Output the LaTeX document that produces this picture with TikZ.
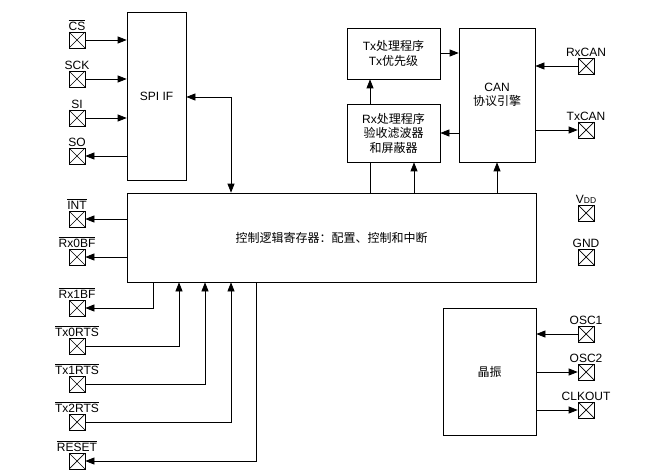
\documentclass[tikz,border=0pt]{standalone}
\usepackage{fontspec}
\setmainfont{Liberation Sans}
\newfontfamily\cjk{Noto Sans CJK SC}
\usetikzlibrary{arrows.meta}
\newcommand{\ol}[1]{$\overline{\mbox{#1}}$}
\begin{document}
\begin{tikzpicture}[x=1pt,y=-1pt,
  every node/.style={font=\fontsize{12}{14.5}\selectfont},
  pin/.style={draw,minimum size=16pt,inner sep=0pt,path picture={
    \draw (path picture bounding box.south west)--(path picture bounding box.north east)
          (path picture bounding box.north west)--(path picture bounding box.south east);}},
  box/.style={draw,inner sep=0pt},
  line width=0.7pt,
  >={Triangle[length=9pt,width=7pt]}]
\useasboundingbox (0,0) rectangle (655,473);
% boxes
\node[box,minimum width=59pt,minimum height=168pt] (spi) at (156.5,96) {SPI IF};
\node[box,minimum width=409pt,minimum height=89pt] (main) at (331.5,237.5) {\cjk 控制逻辑寄存器：配置、控制和中断};
\node[box,minimum width=93pt,minimum height=51pt,align=center] (tx) at (393.5,53.5) {Tx{\cjk 处理程序}\\Tx{\cjk 优先级}};
\node[box,minimum width=93pt,minimum height=58pt,align=center] (rx) at (393.5,133) {Rx{\cjk 处理程序}\\{\cjk 验收滤波器}\\{\cjk 和屏蔽器}};
\node[box,minimum width=76pt,minimum height=134pt,align=center] (can) at (497,95) {CAN\\{\cjk 协议引擎}};
\node[box,minimum width=93pt,minimum height=127pt] (osc) at (489.5,371.5) {\cjk 晶振};
% left pins
\node[pin,label={[inner sep=1pt]above:\ol{CS}}] (cs) at (77,40) {};
\node[pin,label={[inner sep=1pt]above:SCK}] (sck) at (77,79) {};
\node[pin,label={[inner sep=1pt]above:SI}] (si) at (77,118) {};
\node[pin,label={[inner sep=1pt]above:SO}] (so) at (77,156) {};
\node[pin,label={[inner sep=1pt]above:\ol{INT}}] (int) at (77,219) {};
\node[pin,label={[inner sep=1pt]above:\ol{Rx0BF}}] (rx0) at (77,257) {};
\node[pin,label={[inner sep=1pt]above:\ol{Rx1BF}}] (rx1) at (77,308) {};
\node[pin,label={[inner sep=1pt]above:\ol{Tx0RTS}}] (t0) at (77,346) {};
\node[pin,label={[inner sep=1pt]above:\ol{Tx1RTS}}] (t1) at (77,384) {};
\node[pin,label={[inner sep=1pt]above:\ol{Tx2RTS}}] (t2) at (77,422) {};
\node[pin,label={[inner sep=1pt]above:\ol{RESET}}] (rst) at (77,461) {};
% right pins
\node[pin,label={[inner sep=1pt]above:RxCAN}] (rxcan) at (586,66) {};
\node[pin,label={[inner sep=1pt]above:TxCAN}] (txcan) at (586,130) {};
\node[pin,label={[inner sep=1pt]above:V{\fontsize{8.5}{9}\selectfont DD}}] (vdd) at (586,213) {};
\node[pin,label={[inner sep=1pt]above:GND}] (gnd) at (586,257) {};
\node[pin,label={[inner sep=1pt]above:OSC1}] (o1) at (586,334) {};
\node[pin,label={[inner sep=1pt]above:OSC2}] (o2) at (586,372) {};
\node[pin,label={[inner sep=1pt]above:CLKOUT}] (ck) at (586,410) {};
% SPI connections
\draw[->] (cs) -- (cs -| spi.west);
\draw[->] (sck) -- (sck -| spi.west);
\draw[->] (si) -- (si -| spi.west);
\draw[->] (so -| spi.west) -- (so);
\draw[<->] (spi.east |- 0,97) -| (231,0 |- main.north);
% main left
\draw[->] (int -| main.west) -- (int);
\draw[->] (rx0 -| main.west) -- (rx0);
\draw[->] (153,0 |- main.south) |- (rx1);
\draw[->] (t0) -| (179,0 |- main.south);
\draw[->] (t1) -| (205,0 |- main.south);
\draw[->] (t2) -| (231,0 |- main.south);
\draw[->] (256,0 |- main.south) |- (rst);
% right block
\draw[->] (tx.east |- 0,53) -- (can.west |- 0,53);
\draw[->] (can.west |- 0,133) -- (rx.east |- 0,133);
\draw[->] (370,0 |- rx.north) -- (370,0 |- tx.south);
\draw (370,0 |- main.north) -- (370,0 |- rx.south);
\draw[->] (414,0 |- main.north) -- (414,0 |- rx.south);
\draw[->] (497,0 |- main.north) -- (497,0 |- can.south);
\draw[->] (rxcan) -- (rxcan -| can.east);
\draw[->] (txcan -| can.east) -- (txcan);
\draw[->] (o1) -- (o1 -| osc.east);
\draw[->] (o2 -| osc.east) -- (o2);
\draw[->] (ck -| osc.east) -- (ck);
\end{tikzpicture}
\end{document}
